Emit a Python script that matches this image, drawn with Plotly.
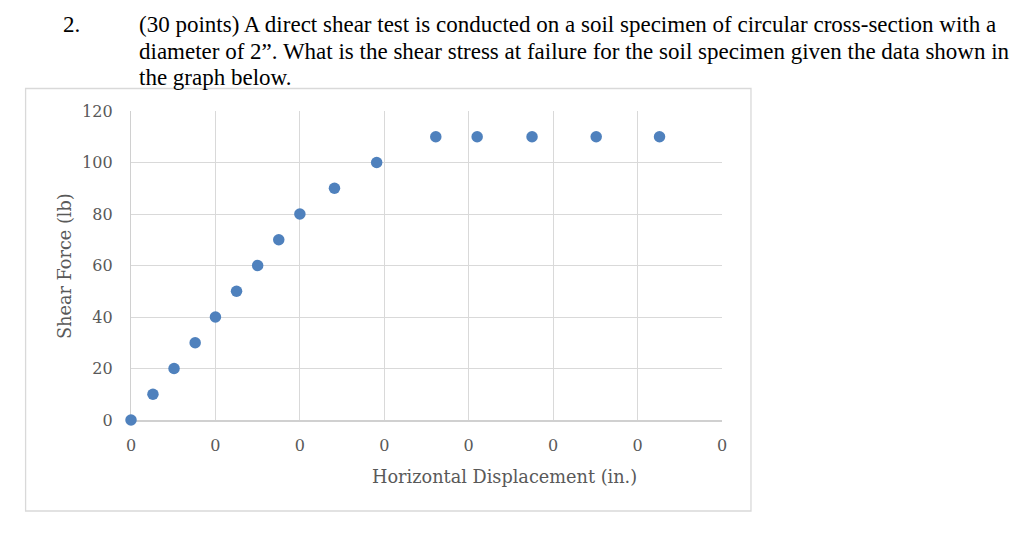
import plotly.graph_objects as go

# Data
displacement = [0, 0.0026, 0.0051, 0.0076, 0.0100, 0.0125, 0.0150, 0.0175, 0.0200,
                0.0241, 0.0291, 0.0361, 0.0410, 0.0475, 0.0551, 0.0626]
shear_force = [0, 10, 20, 30, 40, 50, 60, 70, 80, 90, 100, 110, 110, 110, 110, 110]

x_ticks = [0, 0.01, 0.02, 0.03, 0.04, 0.05, 0.06, 0.07]
x_tick_labels = ["0"] * len(x_ticks)
y_ticks = [0, 20, 40, 60, 80, 100, 120]

question_number = "2."
question_lines = [
    "(30 points) A direct shear test is conducted on a soil specimen of circular cross-section with a",
    "diameter of 2\u201d. What is the shear stress at failure for the soil specimen given the data shown in",
    "the graph below.",
]
x_title = "Horizontal Displacement (in.)"
y_title = "Shear Force (lb)"

# page body has an 8px margin; work in screen pixels and shift
OFF = 8
W, H = 1024 - OFF, 535 - OFF
L, T, R, B = 131 - OFF, 111 - OFF, 722.5 - OFF, 420 - OFF
PW, PH = R - L, B - T


def px(x):
    return (x - OFF - L) / PW


def py(y):
    return (B - (y - OFF)) / PH


chart_font = "DejaVu Serif"
grey = "#595959"
grid = "#d9d9d9"

fig = go.Figure()
fig.add_trace(go.Scatter(
    x=displacement, y=shear_force, mode="markers",
    marker=dict(color="#4f81bd", size=11.5, line=dict(width=0)),
    cliponaxis=False, showlegend=False,
))

fig.update_layout(
    width=W, height=H,
    margin=dict(l=L, r=W - R, t=T, b=H - B),
    paper_bgcolor="white", plot_bgcolor="white",
    xaxis=dict(
        range=[0, 0.07], tickvals=x_ticks, ticktext=x_tick_labels,
        showgrid=True, gridcolor=grid, gridwidth=1.3,
        zeroline=False, showline=True, linecolor="#d0d0d0", linewidth=1.5,
        tickfont=dict(family=chart_font, size=16, color=grey),
        ticks="", ticklabelstandoff=10, layer="below traces",
        fixedrange=True,
    ),
    yaxis=dict(
        range=[0, 120], tickvals=y_ticks,
        showgrid=True, gridcolor=grid, gridwidth=1.3,
        zeroline=False, showline=True, linecolor="#d0d0d0", linewidth=1.3,
        tickfont=dict(family=chart_font, size=16, color=grey),
        ticks="", ticklabelstandoff=14, layer="below traces",
        fixedrange=True,
    ),
    shapes=[dict(
        type="rect", xref="paper", yref="paper",
        x0=px(25.5), x1=px(751.5), y0=py(511), y1=py(88.5),
        line=dict(color="#d9d9d9", width=1.3), fillcolor="rgba(0,0,0,0)",
        layer="below",
    )],
)

annotations = [
    dict(text=x_title, x=px(505), y=py(477), xanchor="center", yanchor="middle",
         font=dict(family=chart_font, size=17.7, color=grey)),
    dict(text=y_title, x=px(65), y=py(266), xanchor="center", yanchor="middle",
         textangle=-90, font=dict(family=chart_font, size=17.7, color=grey)),
    dict(text=question_number, x=px(61), y=py(25), xanchor="left", yanchor="middle",
         font=dict(family="Liberation Serif", size=23, color="black")),
]
for i, line in enumerate(question_lines):
    annotations.append(dict(
        text=line, x=px(137), y=py(25 + 26 * i), xanchor="left", yanchor="middle",
        font=dict(family="Liberation Serif", size=23, color="black")))
for a in annotations:
    a.update(xref="paper", yref="paper", showarrow=False)
fig.update_layout(annotations=annotations)

fig.write_html("out.html")
